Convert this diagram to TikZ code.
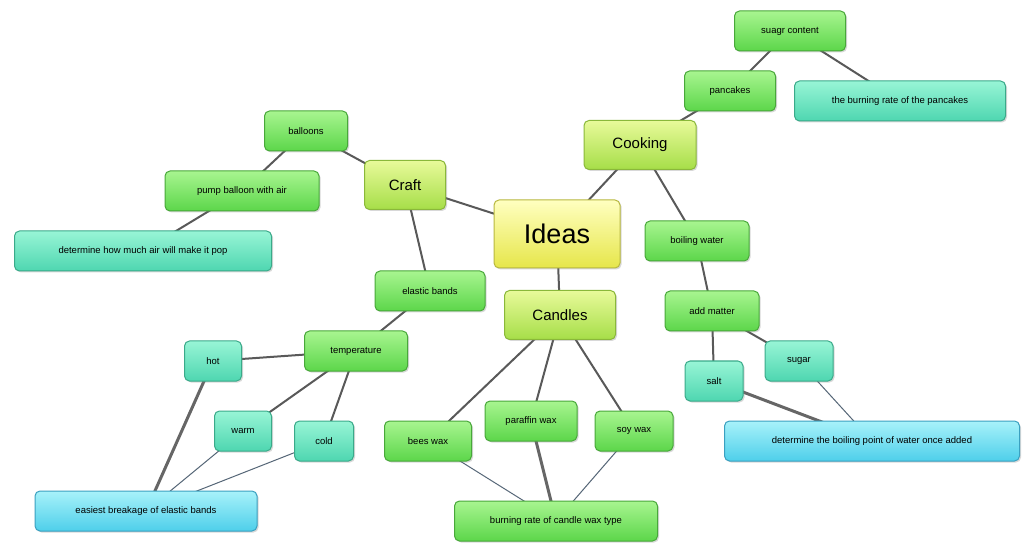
\documentclass[tikz,border=0pt]{standalone}
\usepackage{fontspec}
\setmainfont{Liberation Sans}
\usetikzlibrary{shadows,backgrounds}
\definecolor{gT}{HTML}{A8F590}\definecolor{gB}{HTML}{5CD64A}\definecolor{gD}{HTML}{48A83A}
\definecolor{yT}{HTML}{E8FA9A}\definecolor{yB}{HTML}{A6DE48}\definecolor{yD}{HTML}{8AB83A}
\definecolor{iT}{HTML}{FFFFC0}\definecolor{iB}{HTML}{E6E64A}\definecolor{iD}{HTML}{B8B840}
\definecolor{tT}{HTML}{98F5D6}\definecolor{tB}{HTML}{4ED6B0}\definecolor{tD}{HTML}{3AAA8A}
\definecolor{cT}{HTML}{A8F2FA}\definecolor{cB}{HTML}{4ECFEA}\definecolor{cD}{HTML}{3AA0C0}
\definecolor{slate}{HTML}{556677}
\tikzset{
 x=1pt,y=-1pt,
 base/.style={rounded corners=5pt,draw,line width=1pt,font=\fontsize{9.5}{11}\selectfont,inner sep=0pt,
   drop shadow={shadow xshift=1.5pt,shadow yshift=-1.5pt,opacity=0.3}},
 gn/.style={base,top color=gT,bottom color=gB,draw=gD},
 yn/.style={base,top color=yT,bottom color=yB,draw=yD,font=\fontsize{15}{17}\selectfont},
 idn/.style={base,top color=iT,bottom color=iB,draw=iD,font=\fontsize{27}{30}\selectfont},
 tn/.style={base,top color=tT,bottom color=tB,draw=tD},
 cn/.style={base,top color=cT,bottom color=cB,draw=cD},
 ln/.style={draw=black!65,line width=2pt},
 tk/.style={draw=black!60,line width=3pt},
 sl/.style={draw=slate,line width=1pt},
}
\newcommand{\nd}[6]{\node[#1,minimum width=#4,minimum height=#5] (#2) at #3 {#6};}
\begin{document}
\begin{tikzpicture}
\nd{idn}{ideas}{(557,234)}{126pt}{68pt}{Ideas}
\nd{yn}{craft}{(405,185)}{81pt}{49pt}{Craft}
\nd{yn}{cook}{(640,145)}{112pt}{49pt}{Cooking}
\nd{yn}{cand}{(560,315)}{111pt}{49pt}{Candles}
\nd{gn}{ball}{(306,131)}{83pt}{40pt}{balloons}
\nd{gn}{pump}{(242,191)}{154pt}{40pt}{pump balloon with air}
\nd{tn}{det}{(143,251)}{257pt}{40pt}{determine how much air will make it pop}
\nd{gn}{elas}{(430,291)}{110pt}{40pt}{elastic bands}
\nd{gn}{temp}{(356,351)}{103pt}{40pt}{temperature}
\nd{tn}{hot}{(213,361)}{57pt}{40pt}{hot}
\nd{tn}{warm}{(243,431)}{57pt}{40pt}{warm}
\nd{tn}{cold}{(324,441)}{59pt}{40pt}{cold}
\nd{cn}{easy}{(146,511)}{222pt}{40pt}{easiest breakage of elastic bands}
\nd{gn}{bees}{(428,441)}{87pt}{40pt}{bees wax}
\nd{gn}{para}{(531,421)}{92pt}{40pt}{paraffin wax}
\nd{gn}{soy}{(634,431)}{78pt}{40pt}{soy wax}
\nd{gn}{burn}{(556,521)}{203pt}{40pt}{burning rate of candle wax type}
\nd{gn}{sug}{(790,31)}{111pt}{40pt}{suagr content}
\nd{gn}{pan}{(730,91)}{91pt}{40pt}{pancakes}
\nd{tn}{bpan}{(900,101)}{211pt}{40pt}{the burning rate of the pancakes}
\nd{gn}{boil}{(697,241)}{104pt}{40pt}{boiling water}
\nd{gn}{add}{(712,311)}{94pt}{40pt}{add matter}
\nd{tn}{sugar}{(799,361)}{68pt}{40pt}{sugar}
\nd{tn}{salt}{(714,381)}{58pt}{40pt}{salt}
\nd{cn}{bpt}{(872,441)}{295pt}{40pt}{determine the boiling point of water once added}
\begin{scope}[on background layer]
\fill[white] (0,0) rectangle (1031,553);
\draw[ln] (ideas.center) -- (craft.center);
\draw[ln] (ideas.center) -- (cook.center);
\draw[ln] (ideas.center) -- (cand.center);
\draw[ln] (craft.center) -- (ball.center);
\draw[ln] (ball.center) -- (pump.center);
\draw[ln] (pump.center) -- (det.center);
\draw[ln] (craft.center) -- (elas.center);
\draw[ln] (elas.center) -- (temp.center);
\draw[ln] (temp.center) -- (hot.center);
\draw[ln] (temp.center) -- (warm.center);
\draw[ln] (temp.center) -- (cold.center);
\draw[tk] (hot.center) -- (easy.center);
\draw[sl] (warm.center) -- (easy.center);
\draw[sl] (cold.center) -- (easy.center);
\draw[ln] (cand.center) -- (bees.center);
\draw[ln] (cand.center) -- (para.center);
\draw[ln] (cand.center) -- (soy.center);
\draw[sl] (bees.center) -- (burn.center);
\draw[tk] (para.center) -- (burn.center);
\draw[sl] (soy.center) -- (burn.center);
\draw[ln] (cook.center) -- (pan.center);
\draw[ln] (pan.center) -- (sug.center);
\draw[ln] (sug.center) -- (bpan.center);
\draw[ln] (cook.center) -- (boil.center);
\draw[ln] (boil.center) -- (add.center);
\draw[ln] (add.center) -- (sugar.center);
\draw[ln] (add.center) -- (salt.center);
\draw[tk] (salt.center) -- (bpt.center);
\draw[sl] (sugar.center) -- (bpt.center);
\end{scope}
\end{tikzpicture}
\end{document}
